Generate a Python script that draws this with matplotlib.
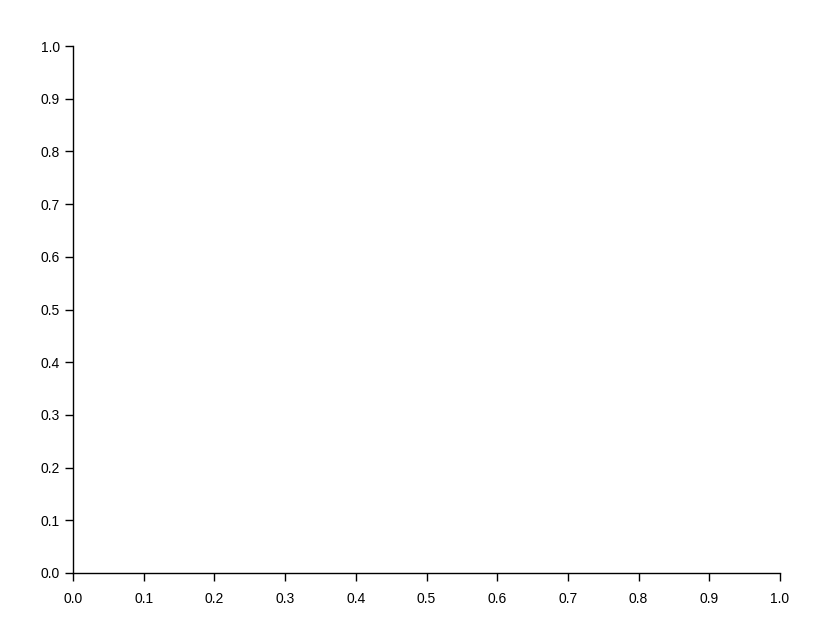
import matplotlib
matplotlib.use("Agg")
import matplotlib.pyplot as plt

x_ticks = [0.0, 0.1, 0.2, 0.3, 0.4, 0.5, 0.6, 0.7, 0.8, 0.9, 1.0]
y_ticks = [0.0, 0.1, 0.2, 0.3, 0.4, 0.5, 0.6, 0.7, 0.8, 0.9, 1.0]

plt.rcParams['font.family'] = ['Liberation Sans', 'DejaVu Sans']

W, H = 822, 619
fig = plt.figure(figsize=(W / 100, H / 100), dpi=100)
ax = fig.add_axes([73 / W, (H - 573) / H, (780 - 73) / W, (573 - 46) / H])

ax.set_xlim(0, 1)
ax.set_ylim(0, 1)
ax.set_xticks(x_ticks)
ax.set_yticks(y_ticks)
ax.set_xticklabels([f"{v:.1f}" for v in x_ticks])
ax.set_yticklabels([f"{v:.1f}" for v in y_ticks])

for s in ['top', 'right']:
    ax.spines[s].set_visible(False)
for s in ['left', 'bottom']:
    ax.spines[s].set_linewidth(1.0)
    ax.spines[s].set_color('black')
    ax.spines[s].set_capstyle('projecting')

ax.tick_params(direction='out', length=6.0, width=1.0, color='black',
               labelsize=10, labelcolor='black')
ax.tick_params(axis='x', pad=7.5)
ax.tick_params(axis='y', pad=3.6)

fig.savefig("out.png", dpi=100)
